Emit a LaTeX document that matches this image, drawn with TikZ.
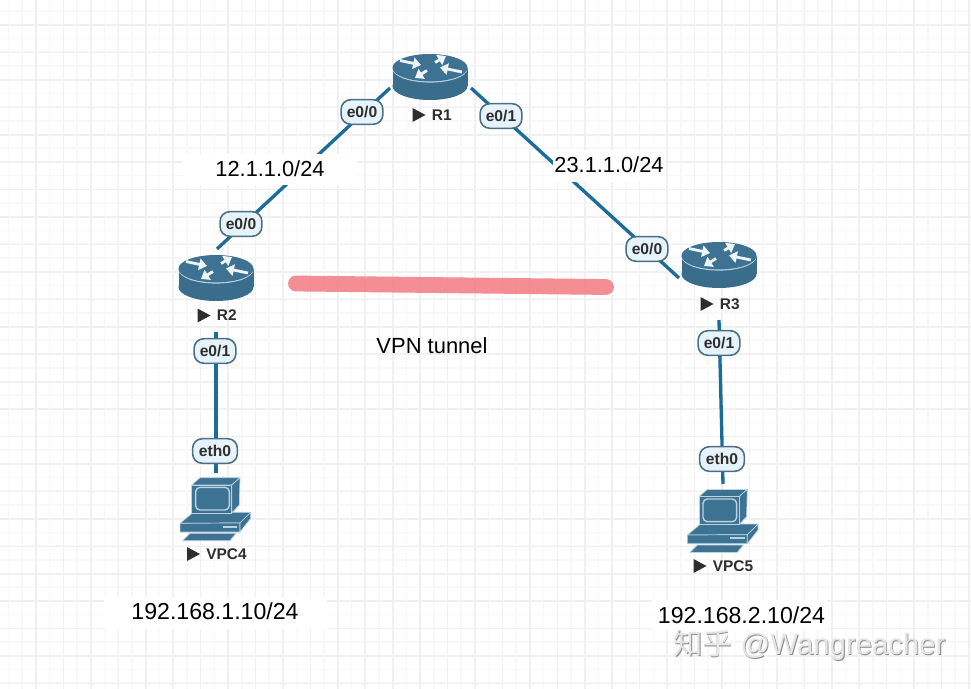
\documentclass[tikz,border=0pt]{standalone}
\usepackage{fontspec}
\setmainfont{Liberation Sans}
\newfontfamily\cjk{Noto Sans CJK SC}
\usetikzlibrary{arrows.meta}
\definecolor{linkblue}{HTML}{1B6C99}
\definecolor{devblue}{HTML}{3D7292}
\definecolor{devrim}{HTML}{B9D3E2}
\definecolor{ifborder}{HTML}{4C6E84}
\definecolor{iffill}{HTML}{E6F3FB}
\definecolor{textdark}{HTML}{2E2E2E}
\definecolor{tunnelred}{HTML}{F4838B}
\definecolor{gridminor}{HTML}{F8F8F8}
\definecolor{gridmajor}{HTML}{F0F0F0}
\tikzset{
  link/.style={linkblue, line width=1.9pt},
  tunnel/.style={tunnelred, opacity=0.92, line width=9pt, line cap=round},
  ifbox/.style={draw=ifborder, fill=iffill, line width=0.9pt, rounded corners=5.5pt,
    minimum width=23.8pt, minimum height=14pt, inner sep=0pt, text=textdark,
    font=\bfseries\fontsize{8.9}{10}\selectfont},
  devtext/.style={anchor=west, inner sep=0pt, text=textdark, font=\bfseries\fontsize{8.8}{10}\selectfont},
  nettext/.style={inner sep=0pt, text=black},
  whitebox/.style={fill=white, draw=none},
  devface/.style={fill=devblue, draw=devrim, line width=0.4pt, line join=round},
  routerarrow/.style={white!92!devblue, line width=1.6pt, -{Triangle[length=4.5pt,width=6.5pt]}},
  pics/router/.style={code={
    \fill[devblue!95!black] (-37.5,0) rectangle (37.5,18);
    \fill[devblue!95!black] (0,18) ellipse (37.5 and 14);
    \fill[devrim] (0,0.6) ellipse (37.5 and 14);
    \fill[devblue] (0,-0.3) ellipse (37.5 and 13.7);
    \draw[routerarrow] (-30,-7.5) -- (-9,-3);
    \draw[routerarrow] (32,4) -- (10,-0.5);
    \draw[routerarrow] (5,-5.5) -- (16,-12);
    \draw[routerarrow] (-3,2.5) -- (-15,10);
  }},
  pics/vpc/.style={code={
    % base and keyboard
    \draw[devface] (-36,13.3) -- (-22.7,2.3) -- (34.7,2.3) -- (24,13) -- cycle;
    \draw[devface] (-36,13.3) -- (24,13) -- (24,22) -- (-36,22) -- cycle;
    \draw[devface] (24,13) -- (34.7,2.3) -- (34.7,8.3) -- (24,22) -- cycle;
    \fill[devrim] (6.7,15.7) rectangle (21.3,17.7);
    \draw[devface] (-33.3,30.7) -- (-26,23.3) -- (20,23.3) -- (14,30.7) -- cycle;
    % monitor
    \draw[devface] (-24.3,-25) -- (-16,-32.3) -- (24,-32.3) -- (15.7,-25) -- cycle;
    \draw[devface] (15.7,-25) -- (24,-32.3) -- (23.3,-5) -- (15.7,3) -- cycle;
    \draw[devface] (-24.3,-25) rectangle (15.7,3);
    \draw[devrim, fill=devblue, line width=0.8pt, rounded corners=2.5pt] (-20.3,-22.7) rectangle (13.3,0);
  }}
}
\newcommand{\devlabel}[4]{
  \node[devtext] (#1) at (#2,#3) {#4};
  \fill[textdark] (#1.west) ++(-19,-7) -- ++(13,7) -- ++(-13,7) -- cycle;
}
\begin{document}
\begin{tikzpicture}[x=0.02cm, y=-0.02cm]
\useasboundingbox (0,0) rectangle (971,689);
% grid
\foreach \i in {0,...,70} {
  \draw[gridminor, line width=0.9pt] (8.5+13.72*\i,0) -- (8.5+13.72*\i,689);
}
\foreach \i in {0,...,50} {
  \draw[gridminor, line width=0.9pt] (0,11+13.72*\i) -- (971,11+13.72*\i);
}
\foreach \i in {0,...,34} {
  \draw[gridmajor, line width=0.9pt] (36+27.44*\i,0) -- (36+27.44*\i,689);
}
\foreach \i in {0,...,24} {
  \draw[gridmajor, line width=0.9pt] (0,25+27.44*\i) -- (971,25+27.44*\i);
}

% connector ends
\coordinate (R1w) at (390,88);
\coordinate (R1e) at (471,88);
\coordinate (R2n) at (217,249);
\coordinate (R2s) at (216,332);
\coordinate (R3w) at (679,278);
\coordinate (R3s) at (719,320);
\coordinate (VPC4n) at (216,473);
\coordinate (VPC5n) at (723,484);
\coordinate (tunnelL) at (296,283.5);
\coordinate (tunnelR) at (606,287);

\draw[link] (R1w) -- (R2n);
\draw[link] (R1e) -- (R3w);
\draw[link] (R2s) -- (VPC4n);
\draw[link] (R3s) -- (VPC5n);

% white boxes behind the networks
\fill[whitebox] (183,154) rectangle (357,185);
\fill[whitebox] (553,150) rectangle (665,182);
\fill[whitebox] (104,597) rectangle (327,629);
\fill[whitebox] (652,600) rectangle (827,630);

\draw[tunnel] (tunnelL) -- (tunnelR);

\pic at (430,68) {router};
\pic at (216,269) {router};
\pic at (719,256) {router};
\pic at (216,510) {vpc};
\pic at (723.3,521.7) {vpc};

\devlabel{R1}{431.5}{115}{R1}
\devlabel{R2}{216.5}{315.5}{R2}
\devlabel{R3}{719.5}{304}{R3}
\devlabel{VPC4}{206}{554}{VPC4}
\devlabel{VPC5}{712.5}{566}{VPC5}

\node[ifbox] (R1e00) at (362,112) {e0/0};
\node[ifbox] (R1e01) at (501,116) {e0/1};
\node[ifbox] (R2e00) at (241,224) {e0/0};
\node[ifbox] (R2e01) at (215,351) {e0/1};
\node[ifbox, minimum width=25.5pt] (VPC4e) at (215,451) {eth0};
\node[ifbox] (R3e00) at (647,249) {e0/0};
\node[ifbox] (R3e01) at (719,343) {e0/1};
\node[ifbox, minimum width=25.5pt] (VPC5e) at (722,459) {eth0};

\node[nettext, font=\fontsize{12.4}{14}\selectfont] (netA) at (270,169) {12.1.1.0/24};
\node[nettext, font=\fontsize{12.4}{14}\selectfont] (netB) at (609,165) {23.1.1.0/24};
\node[nettext, font=\fontsize{12.5}{14}\selectfont] (vpn) at (432,346) {VPN tunnel};
\node[nettext, font=\fontsize{13.15}{15}\selectfont] (netC) at (215,611) {192.168.1.10/24};
\node[nettext, font=\fontsize{13.15}{15}\selectfont] (netD) at (741.5,615) {192.168.2.10/24};

% watermark
\node[anchor=west, inner sep=0pt, text=black!45, font=\fontsize{16.7}{18}\selectfont] (markS) at (674.3,646.3) {{\cjk 知乎} @Wangreacher};
\node[anchor=west, inner sep=0pt, text=black!10, font=\fontsize{16.7}{18}\selectfont] (mark) at (673.5,645.5) {{\cjk 知乎} @Wangreacher};
\end{tikzpicture}
\end{document}
